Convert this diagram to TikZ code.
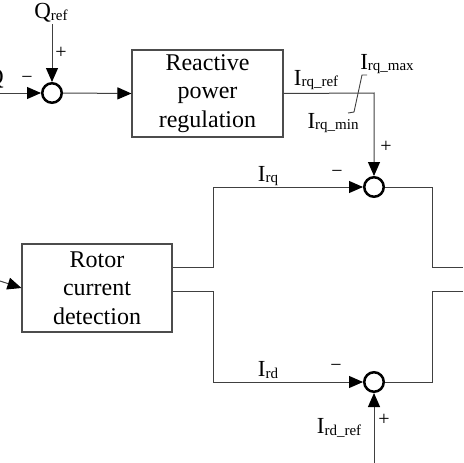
\documentclass[tikz,border=0pt]{standalone}
\usepackage{fontspec}
\setmainfont{Liberation Serif}
\usetikzlibrary{arrows.meta}
\newcommand\sig[2]{#1\raisebox{-1.5pt}{\fontsize{15}{15}\selectfont #2}}
\begin{document}
\begin{tikzpicture}[x=1pt,y=-1pt,
  wire/.style={draw=black!75, line width=1pt},
  arr/.style={wire,-{Triangle[length=14pt,width=12pt,color=black]}},
  sumj/.style={circle,draw=black,line width=2.5pt,minimum size=19.5pt,inner sep=0pt},
  blk/.style={draw=black!70,line width=1.1pt,align=center,font=\fontsize{24}{28.5}\selectfont,inner sep=0pt},
  lbl/.style={font=\fontsize{23}{23}\selectfont,inner sep=0pt},
  sgn/.style={font=\fontsize{20}{20}\selectfont,inner sep=0pt}]
\useasboundingbox (0,0) rectangle (463,463);
% summing junctions
\node[sumj] (s1) at (52,93) {};
\node[sumj] (s2) at (374,187) {};
\node[sumj] (s3) at (374,382) {};
% blocks
\node[blk,minimum width=151pt,minimum height=87pt] (rpr) at (207.5,93.5) {Reactive\\power\\regulation};
\node[blk,minimum width=150pt,minimum height=88pt] (rcd) at (97,288) {Rotor\\current\\detection};
% labels
\node[lbl] (qref) at (51,13) {\sig{Q}{ref}};
\node[lbl,anchor=base east] (qcut) at (4,84) {Q};
\node[lbl] (lref) at (316,80) {\sig{I}{rq\_ref}};
\node[lbl] (lmax) at (387,64) {\sig{I}{rq\_max}};
\node[lbl] (lmin) at (333,123) {\sig{I}{rq\_min}};
\node[lbl] (lirq) at (268,176) {\sig{I}{rq}};
\node[lbl] (lird) at (268,370) {\sig{I}{rd}};
\node[lbl] (lrdref) at (339,428) {\sig{I}{rd\_ref}};
\node[sgn] (m1) at (27,80) {−};
\node[sgn] (p1) at (61,53) {+};
\node[sgn] (p2) at (386,147) {+};
\node[sgn] (m2) at (337,174) {−};
\node[sgn] (m3) at (336,368) {−};
\node[sgn] (p3) at (384,420) {+};
% coordinates
\coordinate (in1) at (0,93);
\coordinate (qtop) at (52,24);
\coordinate (in2) at (0,281);
\coordinate (rdin) at (374,463);
\coordinate (o1) at (463,267);
\coordinate (o2) at (463,291);
% connectors
\draw[arr] (in1) -- (s1.west);
\draw[arr] (qtop) -- (s1.north);
\draw[arr] (s1.east) -- (rpr.west);
\draw[arr] (rpr.east) -- (374,93) -- (s2.north);
\draw[arr] (in2) -- (rcd.west);
\draw[arr] (rcd.east |- 0,267) -- (213,267) -- (213,187) -- (s2.west);
\draw[arr] (rcd.east |- 0,291) -- (213,291) -- (213,382) -- (s3.west);
\draw[arr] (rdin) -- (s3.south);
\draw[wire] (s2.east) -- (432,187) -- (432,267) -- (o1);
\draw[wire] (s3.east) -- (432,382) -- (432,291) -- (o2);
% limiter symbol
\draw[wire,line width=0.9pt] (367,75) -- (362,75) -- (354,112) -- (348,113);
\end{tikzpicture}
\end{document}
